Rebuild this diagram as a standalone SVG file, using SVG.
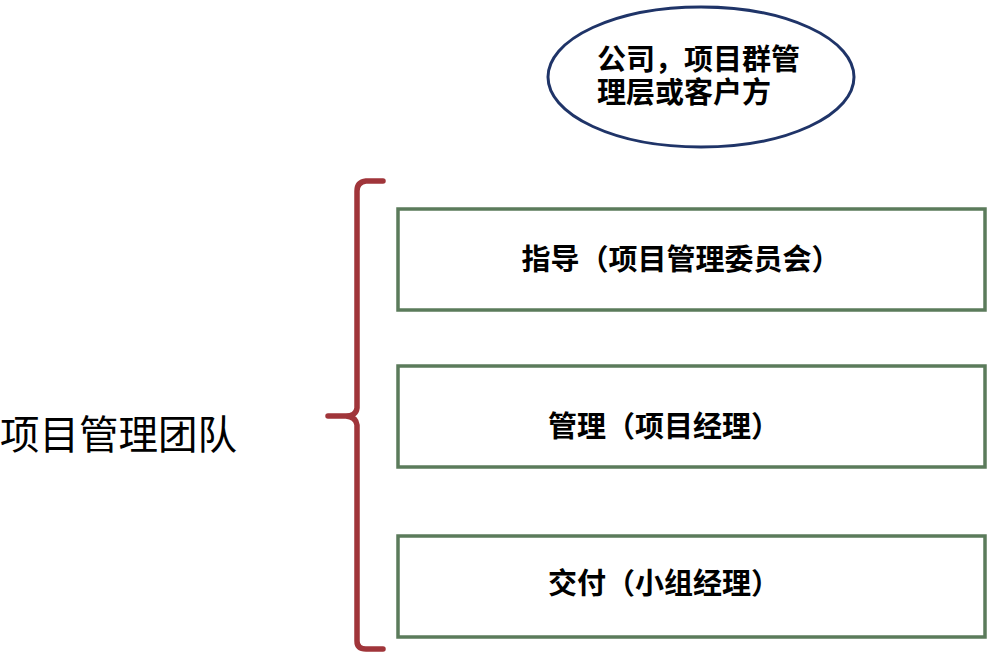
<svg xmlns="http://www.w3.org/2000/svg" width="1000" height="662" viewBox="0 0 1000 662">
<style>
.box{fill:#fff;stroke:#5b7b5b;stroke-width:3.5}
.t{font-family:"Liberation Sans","Noto Sans CJK SC",sans-serif;font-weight:bold;font-size:29px;fill:#000}
</style>
<rect width="1000" height="662" fill="#fff"/>
<g id="ellipse">
<ellipse cx="701" cy="77" rx="153" ry="70" fill="#fff" stroke="#1f3468" stroke-width="3"/>
<text class="t" x="597" y="70">公司，项目群管</text>
<text class="t" x="597" y="103">理层或客户方</text>
</g>
<g id="team">
<text x="0" y="449" font-family="Liberation Sans,Noto Sans CJK SC,sans-serif" font-size="39.5" fill="#000">项目管理团队</text>
</g>
<g id="connectors">
<path d="M383 181 L366 181 Q357 182 357 191 L357 408 Q356 416 346 416 L328 416 M346 416 Q356 417 357 425 L357 641 Q357 649 366 649 L383 649" fill="none" stroke="#a0353a" stroke-width="5.5" stroke-linecap="round" stroke-linejoin="round"/>
</g>
<g id="box1">
<rect class="box" x="398" y="209" width="587" height="101"/>
<text class="t" x="681" y="270" text-anchor="middle">指导（项目管理委员会）</text>
</g>
<g id="box2">
<rect class="box" x="398" y="366" width="587" height="101"/>
<text class="t" x="664" y="437" text-anchor="middle">管理（项目经理）</text>
</g>
<g id="box3">
<rect class="box" x="398" y="536" width="587" height="101"/>
<text class="t" x="664" y="594" text-anchor="middle">交付（小组经理）</text>
</g>
</svg>
